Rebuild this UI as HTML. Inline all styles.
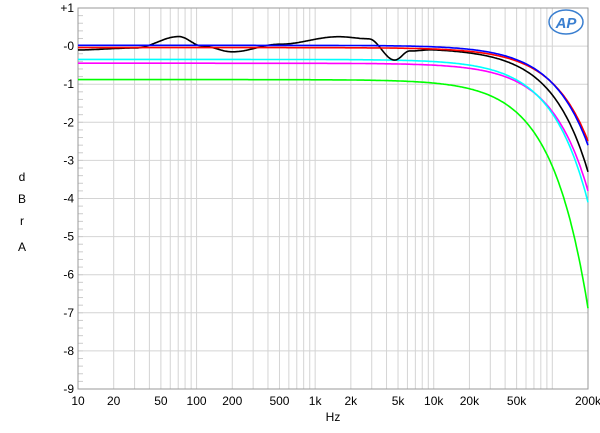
<!DOCTYPE html><html><head><style>body{margin:0;background:#fff}svg{display:block}text{font-family:"Liberation Sans",sans-serif;font-size:12px;fill:#000}</style></head><body>
<svg id="s" width="600" height="433" xmlns="http://www.w3.org/2000/svg"></svg>
<script>
const s=document.getElementById('s');let h='';
const L=78,R=588,T=8,B=389,PD=(B-T)/10;
const X=f=>L+(Math.log10(f)-1)*(R-L)/Math.log10(20000);
const Y=d=>T+(1-d)*PD;
for(let dec=10;dec<=100000;dec*=10)for(let k=1;k<10;k++){const f=dec*k;if(f>200000)break;const x=X(f);h+=`<line x1="${x}" y1="${T}" x2="${x}" y2="${B}" stroke="#d4d4d4" stroke-width="1"/>`;}
for(let d=1;d>=-9;d--){h+=`<line x1="${L}" y1="${Y(d)}" x2="${R}" y2="${Y(d)}" stroke="#d4d4d4"/>`;}
for(let d=1;d>=-9;d-=0.2){h+=`<line x1="${L}" y1="${Y(d)}" x2="${L+5}" y2="${Y(d)}" stroke="#ccc"/>`;}
h+=`<rect x="${L}" y="${T}" width="${R-L}" height="${B-T}" fill="none" stroke="#999"/>`;
const yl=['+1','-0','-1','-2','-3','-4','-5','-6','-7','-8','-9'];
yl.forEach((t,i)=>h+=`<text x="74" y="${Y(1-i)+4}" text-anchor="end">${t}</text>`);
const xl=[[10,'10'],[20,'20'],[50,'50'],[100,'100'],[200,'200'],[500,'500'],[1000,'1k'],[2000,'2k'],[5000,'5k'],[10000,'10k'],[20000,'20k'],[50000,'50k'],[200000,'200k']];
xl.forEach(([f,t])=>h+=`<text x="${X(f)}" y="405" text-anchor="middle">${t}</text>`);
h+=`<text x="333" y="421" text-anchor="middle">Hz</text>`;
[['d',181],['B',203],['r',225],['A',251]].forEach(([t,y])=>h+=`<text x="22" y="${y}" text-anchor="middle">${t}</text>`);
h+=`<ellipse cx="566" cy="22" rx="17" ry="12" fill="none" stroke="#3a7fd0" stroke-width="1.5"/><text x="566" y="28" text-anchor="middle" style="font-size:15px;font-style:italic;font-weight:bold;fill:#3a7fd0">AP</text>`;
function ro(f,A,p){return -A*Math.pow(f/200000,p);}
const bk=[[1,-0.1],[1.48,-0.05],[1.85,0.25],[2.05,0],[2.3,-0.15],[2.7,0.05],[3.2,0.25],[3.45,0.2],[3.67,-0.35],[3.8,-0.1],[4,-0.05],[4.4,-0.05]];
function ripple(f){const l=Math.log10(f);if(l>=4.4)return -0.05;for(let i=0;i<bk.length-1;i++){const [a,va]=bk[i],[b,vb]=bk[i+1];if(l>=a&&l<=b){const t=(l-a)/(b-a),u=(1-Math.cos(Math.PI*t))/2;return va+(vb-va)*u;}}return -0.1;}
const cs=[['#00ff00',f=>-0.88+ro(f,6.0,1.4)],['#ff00ff',f=>-0.45+ro(f,3.35,1.4)],['#00ffff',f=>-0.35+ro(f,3.75,1.4)],['#000',f=>ripple(f)+ro(f,3.25,1.4)],['#ff0000',f=>-0.04+ro(f,2.45,1.4)],['#0000ff',f=>0.02+ro(f,2.62,1.4)]];
cs.forEach(([c,fn])=>{let p='';for(let i=0;i<=400;i++){const l=1+i/400*Math.log10(20000),f=10**l;p+=(i?'L':'M')+X(f).toFixed(1)+' '+Y(fn(f)).toFixed(1);}h+=`<path d="${p}" fill="none" stroke="${c}" stroke-width="1.6"/>`;});
s.innerHTML=h;
</script></body></html>
